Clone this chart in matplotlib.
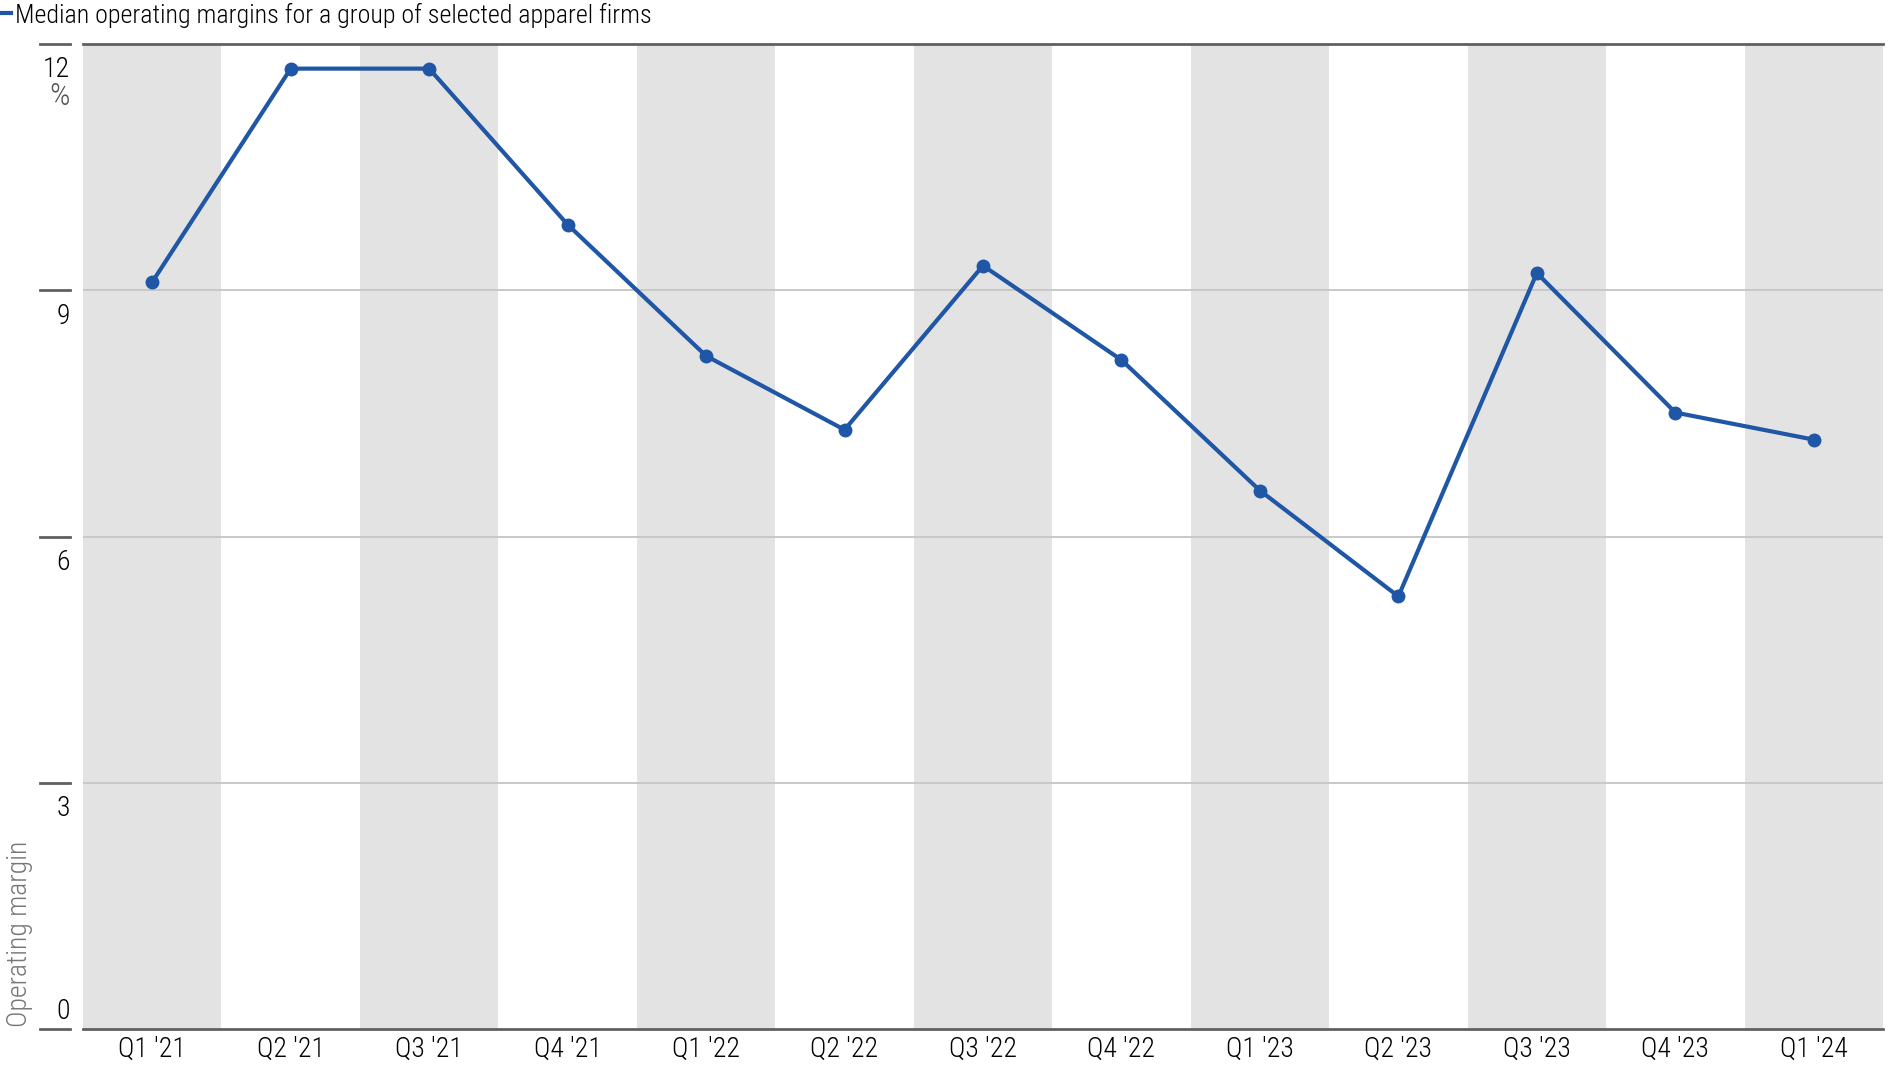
import matplotlib
matplotlib.use("Agg")
import matplotlib.pyplot as plt
import numpy as np

plt.rcParams["font.family"] = ["Roboto Condensed", "DejaVu Sans"]
plt.rcParams["font.weight"] = 300

quarters = ["Q1 '21", "Q2 '21", "Q3 '21", "Q4 '21", "Q1 '22", "Q2 '22", "Q3 '22",
            "Q4 '22", "Q1 '23", "Q2 '23", "Q3 '23", "Q4 '23", "Q1 '24"]
margin = [9.10, 11.70, 11.70, 9.80, 8.20, 7.30, 9.30, 8.15, 6.56, 5.27, 9.21, 7.51, 7.18]
yticks = [0, 3, 6, 9, 12]
title = "Median operating margins for a group of selected apparel firms"

BLUE = "#1f56a6"
BAND = "#e3e3e3"
GRID = "#c8c8c8"
AXIS = "#606060"

fig = plt.figure(figsize=(18.96, 10.66), dpi=100)
ax = fig.add_axes([83 / 1896, 1 - 1029 / 1066, 1800 / 1896, (1029 - 44) / 1066])

x = np.arange(len(quarters))
for i in x[::2]:
    ax.axvspan(i - 0.5, i + 0.5, color=BAND, lw=0, zorder=0)
for v in yticks[1:-1]:
    ax.axhline(v, color=GRID, lw=1.4, zorder=1)
ax.axhline(12, color=AXIS, lw=2.0, zorder=2, clip_on=False)
ax.axhline(0, color=AXIS, lw=2.0, zorder=2, clip_on=False)

ax.plot(x, margin, color=BLUE, lw=3.0, marker="o", ms=9, zorder=3)

ax.set_xlim(-0.5, len(quarters) - 0.5)
ax.set_ylim(0, 12)
for s in ax.spines.values():
    s.set_visible(False)
ax.set_yticks([])
ax.set_xticks(x, quarters, fontsize=20)
ax.tick_params(axis="x", length=0, pad=5)

# left stubs and labels
ytr = ax.get_yaxis_transform()
for v in yticks:
    ax.plot([-43 / 1800, -13 / 1800], [v, v], transform=ytr, color=AXIS, lw=2.0,
            clip_on=False)
    dy = 7 if v == 0 else -24
    ax.annotate(str(v), xy=(-13 / 1800, v), xycoords=ytr, xytext=(0, dy),
                textcoords="offset points", ha="right", va="baseline", fontsize=20)
ax.annotate("%", xy=(-13 / 1800, 12), xycoords=ytr, xytext=(0, -44),
            textcoords="offset points", ha="right", va="baseline", fontsize=23,
            color="#555555")

fig.text(20 / 1896, 1 - 1027 / 1066, "Operating margin", rotation=90, ha="center",
         va="bottom", fontsize=20, color="#777777")

# title with legend swatch
fig.add_artist(plt.Line2D([0, 11 / 1896], [1 - 13 / 1066] * 2, color=BLUE, lw=3))
fig.text(15 / 1896, 1 - 23 / 1066, title, ha="left", va="baseline", fontsize=18.7)

fig.savefig("out.png", dpi=100)
